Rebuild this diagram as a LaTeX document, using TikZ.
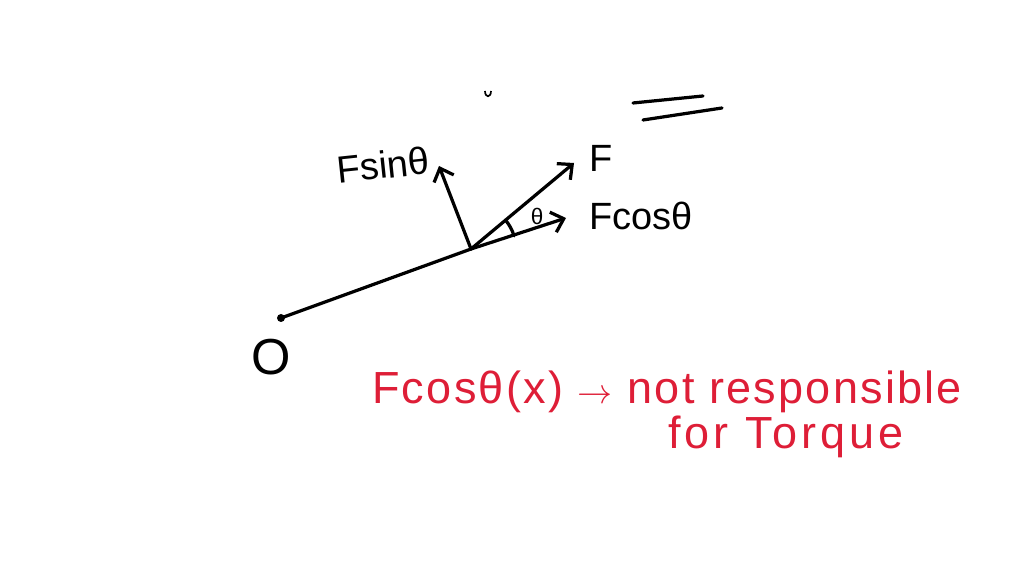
\documentclass[tikz,border=0pt]{standalone}
\usepackage{fontspec}
\setmainfont{Liberation Sans}
\usetikzlibrary{arrows.meta}
\definecolor{rouge}{RGB}{222,30,55}
\begin{document}
\begin{tikzpicture}[x=0.025cm,y=0.025cm]
  \tikzstyle{trait}=[line width=2.3pt, line cap=round, line join=round]
  \tikzstyle{fleche}=[-{Straight Barb[length=8pt,width=15pt]}]
  \tikzstyle{etiquette}=[inner sep=0pt, font=\fontsize{27}{32}\selectfont]
  \tikzstyle{note}=[inner sep=0pt, anchor=west, text=rouge,
  font=\fontsize{32}{38}\selectfont\addfontfeatures{LetterSpace=5}]
  \useasboundingbox (0,0) rectangle (1024,576);
  \foreach \n/\x/\y in {O/281/258,P/471/327,Fc/566/358,F/574/413,Fs/439/410} {
    \coordinate (\n) at (\x,\y);
  }
  \fill (O) circle (4);
  \draw[trait] (O) -- (P);
  \foreach \b in {Fc,F,Fs} {
    \draw[trait,fleche] (P) -- (\b);
  }
  \draw[trait] (P) ++(17:45) arc (17:40:45);
  \node[etiquette, rotate=6] (lFs) at (383,411) {Fsinθ};
  \node[etiquette] (lF) at (601,418) {F};
  \node[etiquette] (lFc) at (641,360) {Fcosθ};
  \node[etiquette, font=\fontsize{16}{18}\selectfont] (theta) at (537,360) {θ};
  \node[etiquette, font=\fontsize{36}{40}\selectfont] (lO) at (271,219) {O};
  % petites marques en haut
  \draw[line width=1.2pt] (485,485) .. controls (485,478) and (491,478) .. (491,485);
  \draw[trait] (633,473) -- (703,480);
  \draw[trait] (643,456) -- (722,468);
  \node[note] (ligne1) at (372,184) {Fcosθ(x) $\rightarrow$ not responsible};
  \node[note, font=\fontsize{32}{38}\selectfont\addfontfeatures{LetterSpace=9}]
  (ligne2) at (668,139) {for Torque};
\end{tikzpicture}
\end{document}
